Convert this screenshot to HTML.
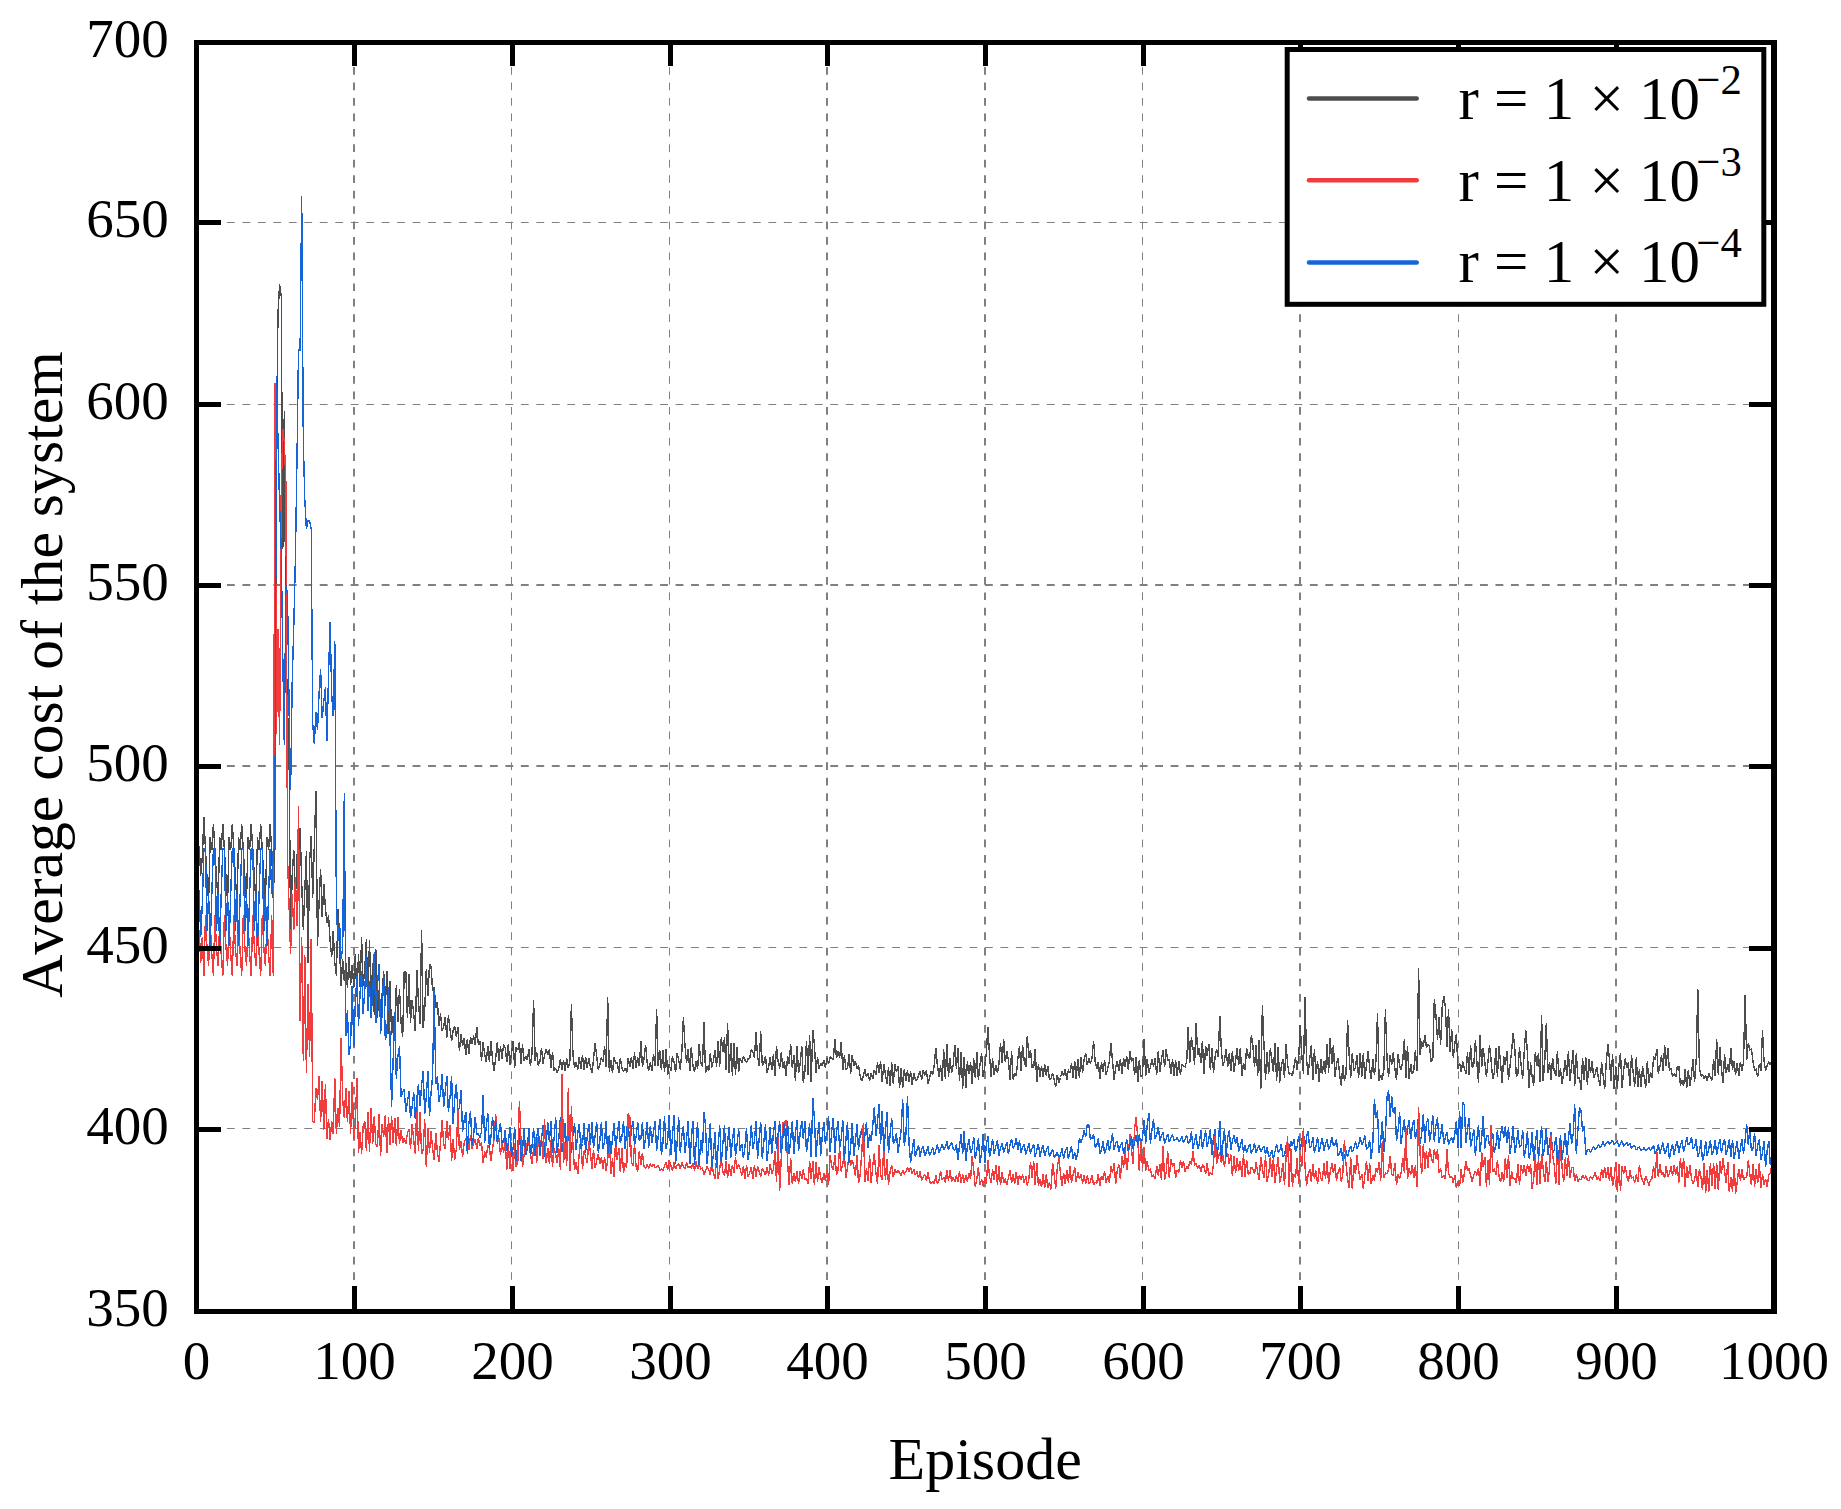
<!DOCTYPE html><html><head><meta charset="utf-8"><title>Average cost of the system</title>
<style>html,body{margin:0;padding:0;background:#fff;overflow:hidden}svg{display:block}text{font-family:"Liberation Serif","Times New Roman",serif;fill:#000}</style></head><body>
<svg width="1841" height="1509" viewBox="0 0 1841 1509">
<rect width="1841" height="1509" fill="#fff"/>
<g stroke="#808080" fill="none">
<line x1="354.0" y1="1310.8" x2="354.0" y2="45" stroke-width="2" stroke-dasharray="7.7 7.75"/>
<line x1="511.5" y1="1310.8" x2="511.5" y2="45" stroke-width="1" stroke-dasharray="7.7 7.75"/>
<line x1="669.5" y1="1310.8" x2="669.5" y2="45" stroke-width="1" stroke-dasharray="7.7 7.75"/>
<line x1="827.0" y1="1310.8" x2="827.0" y2="45" stroke-width="2" stroke-dasharray="7.7 7.75"/>
<line x1="985.0" y1="1310.8" x2="985.0" y2="45" stroke-width="2" stroke-dasharray="7.7 7.75"/>
<line x1="1142.5" y1="1310.8" x2="1142.5" y2="45" stroke-width="1" stroke-dasharray="7.7 7.75"/>
<line x1="1300.0" y1="1310.8" x2="1300.0" y2="45" stroke-width="2" stroke-dasharray="7.7 7.75"/>
<line x1="1458.5" y1="1310.8" x2="1458.5" y2="45" stroke-width="1" stroke-dasharray="7.7 7.75"/>
<line x1="1616.0" y1="1310.8" x2="1616.0" y2="45" stroke-width="2" stroke-dasharray="7.7 7.75"/>
<line x1="196" y1="222.5" x2="1771" y2="222.5" stroke-width="1" stroke-dasharray="7.85 7.62"/>
<line x1="196" y1="404.5" x2="1771" y2="404.5" stroke-width="1" stroke-dasharray="7.85 7.62"/>
<line x1="196" y1="585.0" x2="1771" y2="585.0" stroke-width="2" stroke-dasharray="7.85 7.62"/>
<line x1="196" y1="766.0" x2="1771" y2="766.0" stroke-width="2" stroke-dasharray="7.85 7.62"/>
<line x1="196" y1="947.5" x2="1771" y2="947.5" stroke-width="1" stroke-dasharray="7.85 7.62"/>
<line x1="196" y1="1128.5" x2="1771" y2="1128.5" stroke-width="1" stroke-dasharray="7.85 7.62"/>
</g>
<clipPath id="c"><rect x="199" y="45" width="1572" height="1264"/></clipPath>
<g clip-path="url(#c)" fill="none" stroke-width="1.4" stroke-linejoin="miter" stroke-miterlimit="2" shape-rendering="crispEdges">
<path stroke="#4d4d4d" d="M196.0,853.8 L197.6,868.3 L199.2,846.5 L200.7,875.5 L202.3,857.4 L203.9,817.1 L205.5,850.1 L207.0,877.4 L208.6,902.0 L210.2,837.4 L211.8,850.1 L213.4,824.0 L214.9,850.1 L216.5,877.4 L218.1,902.0 L219.7,837.4 L221.2,850.1 L222.8,824.0 L224.4,850.1 L226.0,877.4 L227.6,902.0 L229.1,837.4 L230.7,850.1 L232.3,824.0 L233.9,850.1 L235.4,877.4 L237.0,902.0 L238.6,837.4 L240.2,850.1 L241.7,824.0 L243.3,850.1 L244.9,877.4 L246.5,902.0 L248.1,837.4 L249.6,850.1 L251.2,824.0 L252.8,850.1 L254.4,877.4 L255.9,902.0 L257.5,837.4 L259.1,850.1 L260.7,824.0 L262.3,850.1 L263.8,877.4 L265.4,902.0 L267.0,837.4 L268.6,850.1 L270.1,824.0 L271.7,850.1 L273.3,900.9 L274.9,846.5 L276.5,436.6 L278.0,313.2 L279.6,284.2 L281.2,296.1 L282.8,549.0 L284.3,411.2 L285.9,639.7 L287.5,708.7 L289.1,755.8 L290.6,933.6 L292.2,875.5 L293.8,850.1 L295.4,900.9 L297.0,853.8 L298.5,897.3 L300.1,828.4 L301.7,882.8 L303.3,930.0 L304.8,890.1 L306.4,851.2 L308.0,962.6 L309.6,861.0 L311.2,836.4 L312.7,898.0 L314.3,846.5 L315.9,791.4 L317.5,945.9 L319.0,904.6 L320.6,868.6 L322.2,917.3 L323.8,884.2 L325.4,908.2 L326.9,922.7 L328.5,915.4 L330.1,940.8 L331.7,957.2 L333.2,931.0 L334.8,962.6 L336.4,975.7 L338.0,908.6 L339.6,948.1 L341.1,986.2 L342.7,959.0 L344.3,980.8 L345.9,962.6 L347.4,988.2 L349.0,956.6 L350.6,985.4 L352.2,964.6 L353.8,987.7 L355.3,953.8 L356.9,997.2 L358.5,954.1 L360.1,987.1 L361.6,937.3 L363.2,986.2 L364.8,968.5 L366.4,939.0 L367.9,1001.8 L369.5,939.7 L371.1,1000.7 L372.7,962.8 L374.3,1014.9 L375.8,949.1 L377.4,1018.0 L379.0,990.1 L380.6,1017.7 L382.1,995.2 L383.7,971.0 L385.3,1006.2 L386.9,971.1 L388.5,1033.8 L390.0,981.3 L391.6,1035.0 L393.2,1016.5 L394.8,1036.1 L396.3,985.1 L397.9,1021.6 L399.5,989.2 L401.1,1022.9 L402.7,1037.1 L404.2,972.7 L405.8,971.3 L407.4,1017.9 L409.0,973.7 L410.5,1022.7 L412.1,1000.3 L413.7,1013.3 L415.3,1031.4 L416.9,970.2 L418.4,1000.2 L420.0,1024.3 L421.6,930.4 L423.2,1028.3 L424.7,1009.6 L426.3,969.5 L427.9,996.3 L429.5,964.4 L431.0,966.0 L432.6,990.5 L434.2,987.6 L435.8,1007.7 L437.4,1001.7 L438.9,1026.2 L440.5,1013.5 L442.1,1031.0 L443.7,1026.7 L445.2,1016.8 L446.8,1037.8 L448.4,1015.3 L450.0,1029.3 L451.6,1041.1 L453.1,1030.8 L454.7,1026.2 L456.3,1036.6 L457.9,1027.4 L459.4,1051.2 L461.0,1033.7 L462.6,1045.6 L464.2,1037.7 L465.8,1055.1 L467.3,1038.7 L468.9,1054.2 L470.5,1036.7 L472.1,1044.3 L473.6,1035.3 L475.2,1044.6 L476.8,1026.9 L478.4,1045.2 L479.9,1041.0 L481.5,1060.5 L483.1,1042.1 L484.7,1054.6 L486.3,1062.0 L487.8,1045.9 L489.4,1061.6 L491.0,1041.0 L492.6,1060.7 L494.1,1070.6 L495.7,1058.1 L497.3,1042.4 L498.9,1061.0 L500.5,1046.1 L502.0,1058.6 L503.6,1044.4 L505.2,1047.7 L506.8,1062.3 L508.3,1043.9 L509.9,1065.3 L511.5,1052.7 L513.1,1041.5 L514.7,1067.9 L516.2,1047.2 L517.8,1050.1 L519.4,1041.8 L521.0,1064.1 L522.5,1044.1 L524.1,1061.3 L525.7,1056.0 L527.3,1060.2 L528.9,1049.5 L530.4,1065.6 L532.0,1054.2 L533.6,1000.3 L535.2,1061.2 L536.7,1051.8 L538.3,1065.5 L539.9,1061.5 L541.5,1047.8 L543.0,1063.8 L544.6,1055.0 L546.2,1049.2 L547.8,1055.3 L549.4,1049.1 L550.9,1067.8 L552.5,1051.7 L554.1,1070.7 L555.7,1068.7 L557.2,1072.7 L558.8,1068.1 L560.4,1059.3 L562.0,1069.9 L563.6,1060.2 L565.1,1070.9 L566.7,1058.5 L568.3,1068.2 L569.9,1060.4 L571.4,1004.3 L573.0,1055.7 L574.6,1067.9 L576.2,1062.1 L577.8,1069.6 L579.3,1056.6 L580.9,1069.1 L582.5,1054.9 L584.1,1069.7 L585.6,1057.0 L587.2,1067.4 L588.8,1058.3 L590.4,1066.7 L592.0,1073.2 L593.5,1059.3 L595.1,1043.4 L596.7,1056.1 L598.3,1070.0 L599.8,1065.1 L601.4,1057.7 L603.0,1061.8 L604.6,1046.5 L606.1,1067.1 L607.7,997.4 L609.3,1071.9 L610.9,1059.6 L612.5,1072.9 L614.0,1056.9 L615.6,1063.8 L617.2,1062.3 L618.8,1073.2 L620.3,1058.4 L621.9,1068.0 L623.5,1072.0 L625.1,1068.0 L626.7,1072.5 L628.2,1058.3 L629.8,1066.6 L631.4,1057.1 L633.0,1069.3 L634.5,1052.5 L636.1,1068.0 L637.7,1057.2 L639.3,1066.4 L640.9,1040.9 L642.4,1066.5 L644.0,1058.9 L645.6,1044.6 L647.2,1063.4 L648.7,1071.0 L650.3,1062.1 L651.9,1071.1 L653.5,1053.9 L655.1,1066.4 L656.6,1008.7 L658.2,1065.5 L659.8,1050.5 L661.4,1069.7 L662.9,1049.9 L664.5,1072.4 L666.1,1048.7 L667.7,1075.1 L669.2,1064.3 L670.8,1070.7 L672.4,1056.3 L674.0,1061.7 L675.6,1072.2 L677.1,1052.7 L678.7,1060.4 L680.3,1069.5 L681.9,1050.9 L683.4,1017.4 L685.0,1045.9 L686.6,1063.3 L688.2,1049.2 L689.8,1071.2 L691.3,1047.0 L692.9,1065.5 L694.5,1072.1 L696.1,1061.0 L697.6,1069.4 L699.2,1044.5 L700.8,1062.6 L702.4,1066.5 L704.0,1021.7 L705.5,1072.6 L707.1,1066.6 L708.7,1071.3 L710.3,1053.2 L711.8,1067.5 L713.4,1060.9 L715.0,1050.5 L716.6,1066.6 L718.2,1040.8 L719.7,1066.6 L721.3,1037.4 L722.9,1052.3 L724.5,1036.9 L726.0,1069.7 L727.6,1023.4 L729.2,1072.7 L730.8,1042.6 L732.4,1076.2 L733.9,1043.4 L735.5,1074.7 L737.1,1047.0 L738.7,1072.0 L740.2,1057.7 L741.8,1063.2 L743.4,1056.7 L745.0,1060.0 L746.5,1062.7 L748.1,1058.8 L749.7,1058.6 L751.3,1049.0 L752.9,1052.2 L754.4,1058.1 L756.0,1031.6 L757.6,1057.0 L759.2,1065.6 L760.7,1031.3 L762.3,1065.3 L763.9,1062.9 L765.5,1056.0 L767.1,1073.1 L768.6,1066.8 L770.2,1057.2 L771.8,1070.1 L773.4,1054.4 L774.9,1076.1 L776.5,1045.8 L778.1,1061.5 L779.7,1068.5 L781.3,1052.2 L782.8,1067.7 L784.4,1061.2 L786.0,1076.4 L787.6,1056.2 L789.1,1063.8 L790.7,1044.4 L792.3,1067.8 L793.9,1055.1 L795.4,1081.1 L797.0,1046.3 L798.6,1072.8 L800.2,1063.5 L801.8,1046.2 L803.3,1082.9 L804.9,1071.7 L806.5,1040.9 L808.1,1075.2 L809.6,1035.3 L811.2,1082.3 L812.8,1030.4 L814.4,1044.5 L816.0,1073.0 L817.5,1057.2 L819.1,1068.6 L820.7,1063.0 L822.3,1065.9 L823.8,1060.4 L825.4,1067.7 L827.0,1057.9 L828.6,1063.4 L830.2,1056.9 L831.7,1058.2 L833.3,1059.6 L834.9,1039.2 L836.5,1058.0 L838.0,1051.0 L839.6,1058.0 L841.2,1041.8 L842.8,1069.7 L844.4,1055.4 L845.9,1069.2 L847.5,1068.3 L849.1,1054.5 L850.7,1073.8 L852.2,1055.5 L853.8,1066.2 L855.4,1060.9 L857.0,1068.6 L858.5,1065.0 L860.1,1075.6 L861.7,1081.2 L863.3,1076.2 L864.9,1069.3 L866.4,1076.8 L868.0,1073.0 L869.6,1080.8 L871.2,1072.7 L872.7,1079.3 L874.3,1069.9 L875.9,1074.7 L877.5,1062.6 L879.1,1072.8 L880.6,1061.5 L882.2,1082.0 L883.8,1063.9 L885.4,1074.0 L886.9,1083.7 L888.5,1067.4 L890.1,1086.4 L891.7,1062.2 L893.3,1083.9 L894.8,1064.4 L896.4,1072.2 L898.0,1066.0 L899.6,1088.3 L901.1,1068.0 L902.7,1088.0 L904.3,1068.8 L905.9,1081.3 L907.5,1070.4 L909.0,1082.3 L910.6,1070.9 L912.2,1085.0 L913.8,1072.7 L915.3,1079.8 L916.9,1079.9 L918.5,1075.8 L920.1,1070.9 L921.6,1079.7 L923.2,1070.5 L924.8,1075.3 L926.4,1070.1 L928.0,1083.7 L929.5,1078.4 L931.1,1071.1 L932.7,1074.7 L934.3,1064.5 L935.8,1047.8 L937.4,1065.6 L939.0,1076.5 L940.6,1065.6 L942.2,1080.8 L943.7,1049.3 L945.3,1078.6 L946.9,1044.3 L948.5,1076.6 L950.0,1058.0 L951.6,1072.8 L953.2,1065.1 L954.8,1044.8 L956.4,1068.8 L957.9,1047.7 L959.5,1080.7 L961.1,1051.9 L962.7,1088.9 L964.2,1056.8 L965.8,1087.9 L967.4,1061.5 L969.0,1074.4 L970.6,1061.9 L972.1,1084.4 L973.7,1058.5 L975.3,1077.7 L976.9,1052.2 L978.4,1080.4 L980.0,1064.3 L981.6,1053.1 L983.2,1076.8 L984.8,1065.9 L986.3,1053.4 L987.9,1026.9 L989.5,1054.6 L991.1,1076.5 L992.6,1058.4 L994.2,1075.1 L995.8,1064.8 L997.4,1073.0 L998.9,1064.0 L1000.5,1043.4 L1002.1,1063.1 L1003.7,1039.0 L1005.3,1062.2 L1006.8,1051.5 L1008.4,1060.3 L1010.0,1079.7 L1011.6,1050.8 L1013.1,1079.4 L1014.7,1073.1 L1016.3,1076.1 L1017.9,1057.7 L1019.5,1046.5 L1021.0,1070.7 L1022.6,1044.8 L1024.2,1061.2 L1025.8,1067.1 L1027.3,1035.6 L1028.9,1057.8 L1030.5,1049.9 L1032.1,1067.1 L1033.7,1067.3 L1035.2,1049.2 L1036.8,1082.4 L1038.4,1063.7 L1040.0,1076.8 L1041.5,1066.2 L1043.1,1077.3 L1044.7,1064.4 L1046.3,1075.4 L1047.8,1065.7 L1049.4,1079.5 L1051.0,1078.8 L1052.6,1072.8 L1054.2,1080.2 L1055.7,1086.6 L1057.3,1074.9 L1058.9,1083.2 L1060.5,1077.5 L1062.0,1071.5 L1063.6,1076.2 L1065.2,1069.0 L1066.8,1079.7 L1068.4,1069.7 L1069.9,1073.2 L1071.5,1062.8 L1073.1,1077.5 L1074.7,1060.6 L1076.2,1079.2 L1077.8,1058.9 L1079.4,1077.5 L1081.0,1057.2 L1082.6,1073.1 L1084.1,1060.0 L1085.7,1053.1 L1087.3,1065.2 L1088.9,1058.0 L1090.4,1063.6 L1092.0,1058.1 L1093.6,1040.8 L1095.2,1061.8 L1096.8,1068.6 L1098.3,1061.6 L1099.9,1079.4 L1101.5,1061.8 L1103.1,1072.0 L1104.6,1059.9 L1106.2,1074.9 L1107.8,1068.2 L1109.4,1061.1 L1110.9,1043.4 L1112.5,1060.8 L1114.1,1079.6 L1115.7,1066.9 L1117.3,1060.7 L1118.8,1071.0 L1120.4,1058.6 L1122.0,1074.1 L1123.6,1057.9 L1125.1,1066.8 L1126.7,1056.3 L1128.3,1069.8 L1129.9,1051.0 L1131.5,1061.7 L1133.0,1058.3 L1134.6,1075.4 L1136.2,1056.6 L1137.8,1081.9 L1139.3,1060.2 L1140.9,1076.7 L1142.5,1074.4 L1144.1,1039.1 L1145.7,1076.3 L1147.2,1058.8 L1148.8,1072.7 L1150.4,1067.2 L1152.0,1059.3 L1153.5,1066.6 L1155.1,1058.4 L1156.7,1074.5 L1158.3,1051.3 L1159.9,1072.1 L1161.4,1060.0 L1163.0,1049.8 L1164.6,1067.2 L1166.2,1049.2 L1167.7,1060.3 L1169.3,1059.0 L1170.9,1074.0 L1172.5,1059.0 L1174.0,1075.9 L1175.6,1060.1 L1177.2,1075.8 L1178.8,1061.3 L1180.4,1074.7 L1181.9,1064.1 L1183.5,1066.3 L1185.1,1066.8 L1186.7,1061.4 L1188.2,1026.9 L1189.8,1062.6 L1191.4,1037.4 L1193.0,1048.2 L1194.6,1064.5 L1196.1,1022.6 L1197.7,1055.3 L1199.3,1047.8 L1200.9,1063.4 L1202.4,1040.8 L1204.0,1073.9 L1205.6,1045.8 L1207.2,1055.9 L1208.8,1043.8 L1210.3,1069.9 L1211.9,1047.9 L1213.5,1072.5 L1215.1,1057.0 L1216.6,1049.1 L1218.2,1057.2 L1219.8,1015.6 L1221.4,1050.5 L1223.0,1066.3 L1224.5,1060.6 L1226.1,1048.8 L1227.7,1066.6 L1229.3,1053.1 L1230.8,1071.4 L1232.4,1051.1 L1234.0,1072.3 L1235.6,1060.3 L1237.1,1048.4 L1238.7,1065.1 L1240.3,1048.0 L1241.9,1075.8 L1243.5,1063.0 L1245.0,1070.3 L1246.6,1047.9 L1248.2,1055.4 L1249.8,1058.8 L1251.3,1035.4 L1252.9,1045.3 L1254.5,1067.0 L1256.1,1045.1 L1257.7,1075.7 L1259.2,1040.0 L1260.8,1088.6 L1262.4,1005.5 L1264.0,1045.3 L1265.5,1079.8 L1267.1,1052.0 L1268.7,1073.9 L1270.3,1048.2 L1271.9,1060.2 L1273.4,1072.0 L1275.0,1043.2 L1276.6,1081.0 L1278.2,1047.3 L1279.7,1082.6 L1281.3,1065.8 L1282.9,1059.2 L1284.5,1078.1 L1286.1,1044.0 L1287.6,1064.7 L1289.2,1073.9 L1290.8,1073.5 L1292.4,1076.1 L1293.9,1067.0 L1295.5,1057.4 L1297.1,1069.8 L1298.7,1057.8 L1300.2,1025.2 L1301.8,1054.7 L1303.4,1073.6 L1305.0,997.4 L1306.6,1060.4 L1308.1,1075.0 L1309.7,1059.3 L1311.3,1045.5 L1312.9,1080.2 L1314.4,1049.4 L1316.0,1073.9 L1317.6,1061.4 L1319.2,1082.3 L1320.8,1059.0 L1322.3,1073.9 L1323.9,1061.1 L1325.5,1074.1 L1327.1,1043.9 L1328.6,1072.6 L1330.2,1038.2 L1331.8,1064.0 L1333.4,1044.9 L1335.0,1077.3 L1336.5,1064.1 L1338.1,1057.9 L1339.7,1075.9 L1341.3,1085.9 L1342.8,1065.0 L1344.4,1080.7 L1346.0,1074.2 L1347.6,1020.5 L1349.2,1055.9 L1350.7,1077.5 L1352.3,1053.3 L1353.9,1070.7 L1355.5,1067.0 L1357.0,1055.5 L1358.6,1078.0 L1360.2,1053.4 L1361.8,1076.5 L1363.3,1053.4 L1364.9,1078.9 L1366.5,1065.0 L1368.1,1050.9 L1369.7,1069.0 L1371.2,1079.3 L1372.8,1059.4 L1374.4,1075.3 L1376.0,1060.7 L1377.5,1013.5 L1379.1,1081.2 L1380.7,1074.8 L1382.3,1079.8 L1383.9,1068.8 L1385.4,1009.5 L1387.0,1058.4 L1388.6,1077.0 L1390.2,1055.2 L1391.7,1064.8 L1393.3,1052.4 L1394.9,1069.5 L1396.5,1079.6 L1398.1,1053.8 L1399.6,1065.6 L1401.2,1070.3 L1402.8,1059.9 L1404.4,1038.9 L1405.9,1077.5 L1407.5,1045.7 L1409.1,1079.1 L1410.7,1063.9 L1412.3,1074.2 L1413.8,1069.8 L1415.4,1050.2 L1417.0,1071.0 L1418.6,967.8 L1420.1,1054.9 L1421.7,1041.3 L1423.3,1047.3 L1424.9,1034.6 L1426.4,1047.4 L1428.0,1043.9 L1429.6,1047.0 L1431.2,1062.0 L1432.8,1058.1 L1434.3,999.1 L1435.9,1015.0 L1437.5,1039.6 L1439.1,1017.0 L1440.6,1044.8 L1442.2,1007.1 L1443.8,995.6 L1445.4,1007.2 L1447.0,1046.6 L1448.5,1009.0 L1450.1,1051.9 L1451.7,1029.5 L1453.3,1057.7 L1454.8,1044.0 L1456.4,1034.0 L1458.0,1068.9 L1459.6,1063.0 L1461.2,1071.8 L1462.7,1061.3 L1464.3,1067.9 L1465.9,1074.0 L1467.5,1052.2 L1469.0,1075.4 L1470.6,1045.1 L1472.2,1067.4 L1473.8,1064.6 L1475.4,1040.2 L1476.9,1062.4 L1478.5,1083.2 L1480.1,1035.0 L1481.7,1067.1 L1483.2,1047.6 L1484.8,1062.0 L1486.4,1076.6 L1488.0,1061.7 L1489.5,1044.8 L1491.1,1060.2 L1492.7,1079.3 L1494.3,1072.7 L1495.9,1047.6 L1497.4,1076.8 L1499.0,1046.5 L1500.6,1063.5 L1502.2,1082.5 L1503.7,1056.3 L1505.3,1065.1 L1506.9,1051.3 L1508.5,1080.1 L1510.1,1065.0 L1511.6,1051.4 L1513.2,1033.0 L1514.8,1048.5 L1516.4,1077.1 L1517.9,1073.9 L1519.5,1047.1 L1521.1,1065.1 L1522.7,1078.6 L1524.3,1050.1 L1525.8,1030.4 L1527.4,1052.1 L1529.0,1088.1 L1530.6,1062.5 L1532.1,1076.7 L1533.7,1085.5 L1535.3,1052.1 L1536.9,1065.7 L1538.5,1053.1 L1540.0,1081.7 L1541.6,1015.3 L1543.2,1080.9 L1544.8,1060.2 L1546.3,1023.4 L1547.9,1073.3 L1549.5,1061.9 L1551.1,1079.8 L1552.6,1057.6 L1554.2,1071.2 L1555.8,1076.0 L1557.4,1051.2 L1559.0,1076.7 L1560.5,1068.6 L1562.1,1084.4 L1563.7,1072.7 L1565.3,1059.6 L1566.8,1076.4 L1568.4,1051.0 L1570.0,1081.4 L1571.6,1065.6 L1573.2,1050.5 L1574.7,1085.9 L1576.3,1053.2 L1577.9,1078.9 L1579.5,1077.4 L1581.0,1089.7 L1582.6,1057.9 L1584.2,1079.5 L1585.8,1057.5 L1587.4,1085.3 L1588.9,1058.8 L1590.5,1073.1 L1592.1,1060.9 L1593.7,1077.8 L1595.2,1074.4 L1596.8,1066.8 L1598.4,1077.8 L1600.0,1086.2 L1601.6,1062.0 L1603.1,1075.3 L1604.7,1088.6 L1606.3,1061.5 L1607.9,1044.3 L1609.4,1058.6 L1611.0,1080.5 L1612.6,1054.0 L1614.2,1088.9 L1615.8,1066.5 L1617.3,1088.5 L1618.9,1065.9 L1620.5,1052.8 L1622.1,1088.1 L1623.6,1070.4 L1625.2,1058.6 L1626.8,1068.3 L1628.4,1062.6 L1629.9,1086.3 L1631.5,1055.0 L1633.1,1071.6 L1634.7,1086.6 L1636.3,1057.1 L1637.8,1086.9 L1639.4,1069.1 L1641.0,1086.8 L1642.6,1066.5 L1644.1,1076.7 L1645.7,1087.5 L1647.3,1061.3 L1648.9,1083.4 L1650.5,1072.5 L1652.0,1077.7 L1653.6,1056.4 L1655.2,1059.7 L1656.8,1048.9 L1658.3,1073.5 L1659.9,1066.8 L1661.5,1055.5 L1663.1,1070.7 L1664.7,1045.3 L1666.2,1066.4 L1667.8,1048.2 L1669.4,1070.5 L1671.0,1068.1 L1672.5,1076.6 L1674.1,1074.2 L1675.7,1077.2 L1677.3,1066.7 L1678.8,1066.2 L1680.4,1085.6 L1682.0,1079.8 L1683.6,1086.1 L1685.2,1069.3 L1686.7,1087.9 L1688.3,1069.8 L1689.9,1086.1 L1691.5,1074.6 L1693.0,1059.4 L1694.6,1082.0 L1696.2,1059.6 L1697.8,989.5 L1699.4,1067.0 L1700.9,1076.3 L1702.5,1074.3 L1704.1,1078.6 L1705.7,1075.6 L1707.2,1081.1 L1708.8,1073.5 L1710.4,1077.0 L1712.0,1080.4 L1713.6,1059.1 L1715.1,1075.8 L1716.7,1039.4 L1718.3,1075.0 L1719.9,1046.6 L1721.4,1068.6 L1723.0,1083.0 L1724.6,1054.5 L1726.2,1072.7 L1727.8,1064.5 L1729.3,1072.3 L1730.9,1047.9 L1732.5,1069.5 L1734.1,1061.1 L1735.6,1075.1 L1737.2,1062.7 L1738.8,1076.0 L1740.4,1061.8 L1741.9,1071.3 L1743.5,1062.0 L1745.1,994.8 L1746.7,1059.8 L1748.3,1042.7 L1749.8,1049.9 L1751.4,1049.2 L1753.0,1061.3 L1754.6,1070.2 L1756.1,1069.4 L1757.7,1077.1 L1759.3,1064.2 L1760.9,1071.3 L1762.5,1030.4 L1764.0,1060.8 L1765.6,1070.4 L1767.2,1065.3 L1768.8,1061.7 L1770.3,1064.5 L1771.9,1060.6 L1773.5,1066.6"/>
<path stroke="#f03c3c" d="M196.0,940.8 L197.6,955.4 L199.2,930.0 L200.7,962.6 L202.3,937.2 L203.9,975.7 L205.5,915.1 L207.0,948.1 L208.6,965.5 L210.2,923.4 L211.8,953.5 L213.4,975.7 L214.9,915.1 L216.5,948.1 L218.1,965.5 L219.7,923.4 L221.2,953.5 L222.8,975.7 L224.4,915.1 L226.0,948.1 L227.6,965.5 L229.1,923.4 L230.7,953.5 L232.3,975.7 L233.9,915.1 L235.4,948.1 L237.0,965.5 L238.6,923.4 L240.2,953.5 L241.7,975.7 L243.3,915.1 L244.9,948.1 L246.5,965.5 L248.1,923.4 L249.6,953.5 L251.2,975.7 L252.8,915.1 L254.4,948.1 L255.9,965.5 L257.5,923.4 L259.1,953.5 L260.7,975.7 L262.3,915.1 L263.8,948.1 L265.4,965.5 L267.0,923.4 L268.6,953.5 L270.1,975.7 L271.7,915.1 L273.3,975.7 L274.9,382.9 L276.5,734.0 L278.0,628.8 L279.6,744.9 L281.2,494.6 L282.8,428.9 L284.3,442.0 L285.9,483.0 L287.5,856.3 L289.1,906.7 L290.6,953.9 L292.2,893.7 L293.8,930.0 L295.4,877.4 L297.0,926.3 L298.5,805.9 L300.1,1020.7 L301.7,937.2 L303.3,1060.6 L304.8,955.4 L306.4,1073.3 L308.0,984.4 L309.6,1056.9 L311.2,939.0 L312.7,1121.5 L314.3,1123.1 L315.9,1087.7 L317.5,1100.2 L319.0,1076.3 L320.6,1122.0 L322.2,1081.4 L323.8,1129.8 L325.4,1084.0 L326.9,1139.0 L328.5,1118.7 L330.1,1140.2 L331.7,1121.3 L333.2,1133.6 L334.8,1078.5 L336.4,1134.2 L338.0,1108.1 L339.6,1127.1 L341.1,1038.2 L342.7,1099.7 L344.3,1118.2 L345.9,1087.6 L347.4,1121.7 L349.0,1090.7 L350.6,1133.8 L352.2,1082.3 L353.8,1139.8 L355.3,1123.7 L356.9,1077.7 L358.5,1152.9 L360.1,1131.6 L361.6,1154.1 L363.2,1126.5 L364.8,1121.4 L366.4,1150.9 L367.9,1111.6 L369.5,1151.8 L371.1,1108.0 L372.7,1144.2 L374.3,1115.9 L375.8,1144.5 L377.4,1146.8 L379.0,1113.6 L380.6,1156.4 L382.1,1124.2 L383.7,1136.6 L385.3,1115.2 L386.9,1152.6 L388.5,1117.3 L390.0,1144.8 L391.6,1116.2 L393.2,1142.6 L394.8,1117.6 L396.3,1145.6 L397.9,1117.4 L399.5,1143.9 L401.1,1129.8 L402.7,1143.2 L404.2,1138.2 L405.8,1144.0 L407.4,1133.5 L409.0,1129.0 L410.5,1149.4 L412.1,1124.2 L413.7,1140.3 L415.3,1154.2 L416.9,1099.1 L418.4,1151.4 L420.0,1112.1 L421.6,1154.1 L423.2,1149.7 L424.7,1119.2 L426.3,1167.4 L427.9,1127.9 L429.5,1153.0 L431.0,1131.1 L432.6,1148.6 L434.2,1160.3 L435.8,1132.7 L437.4,1152.0 L438.9,1161.5 L440.5,1142.7 L442.1,1119.8 L443.7,1144.2 L445.2,1149.0 L446.8,1120.8 L448.4,1139.7 L450.0,1125.3 L451.6,1160.5 L453.1,1139.3 L454.7,1159.6 L456.3,1149.1 L457.9,1110.1 L459.4,1150.1 L461.0,1140.7 L462.6,1156.6 L464.2,1143.1 L465.8,1138.3 L467.3,1141.7 L468.9,1149.7 L470.5,1134.9 L472.1,1149.3 L473.6,1142.9 L475.2,1139.1 L476.8,1148.8 L478.4,1138.0 L479.9,1146.2 L481.5,1141.9 L483.1,1163.0 L484.7,1151.6 L486.3,1157.7 L487.8,1145.1 L489.4,1147.8 L491.0,1161.0 L492.6,1148.0 L494.1,1139.1 L495.7,1113.8 L497.3,1144.0 L498.9,1138.3 L500.5,1154.5 L502.0,1140.3 L503.6,1152.9 L505.2,1141.3 L506.8,1169.7 L508.3,1141.9 L509.9,1169.3 L511.5,1141.8 L513.1,1171.4 L514.7,1143.3 L516.2,1167.0 L517.8,1161.6 L519.4,1100.8 L521.0,1139.8 L522.5,1166.9 L524.1,1155.0 L525.7,1142.9 L527.3,1148.8 L528.9,1139.8 L530.4,1153.6 L532.0,1164.2 L533.6,1147.8 L535.2,1137.4 L536.7,1162.7 L538.3,1135.1 L539.9,1155.7 L541.5,1136.2 L543.0,1159.0 L544.6,1119.0 L546.2,1163.4 L547.8,1148.3 L549.4,1164.3 L550.9,1139.8 L552.5,1166.7 L554.1,1147.9 L555.7,1154.9 L557.2,1162.5 L558.8,1148.5 L560.4,1169.8 L562.0,1073.9 L563.6,1162.9 L565.1,1142.1 L566.7,1166.2 L568.3,1087.8 L569.9,1171.4 L571.4,1106.0 L573.0,1147.1 L574.6,1170.2 L576.2,1161.7 L577.8,1174.1 L579.3,1152.5 L580.9,1137.8 L582.5,1169.3 L584.1,1150.6 L585.6,1157.0 L587.2,1163.2 L588.8,1141.3 L590.4,1152.6 L592.0,1169.4 L593.5,1149.7 L595.1,1168.1 L596.7,1160.6 L598.3,1153.9 L599.8,1163.7 L601.4,1156.9 L603.0,1168.8 L604.6,1157.0 L606.1,1171.2 L607.7,1159.4 L609.3,1134.8 L610.9,1174.4 L612.5,1158.2 L614.0,1176.5 L615.6,1138.8 L617.2,1159.5 L618.8,1147.6 L620.3,1172.1 L621.9,1147.7 L623.5,1173.1 L625.1,1163.6 L626.7,1167.8 L628.2,1113.8 L629.8,1116.4 L631.4,1162.0 L633.0,1166.1 L634.5,1143.6 L636.1,1166.9 L637.7,1171.5 L639.3,1151.4 L640.9,1165.1 L642.4,1152.7 L644.0,1166.4 L645.6,1168.9 L647.2,1164.5 L648.7,1168.3 L650.3,1163.8 L651.9,1166.9 L653.5,1163.9 L655.1,1167.4 L656.6,1167.2 L658.2,1164.9 L659.8,1170.3 L661.4,1169.0 L662.9,1170.3 L664.5,1166.0 L666.1,1162.0 L667.7,1169.8 L669.2,1160.4 L670.8,1165.4 L672.4,1171.0 L674.0,1162.3 L675.6,1169.1 L677.1,1165.2 L678.7,1163.8 L680.3,1169.0 L681.9,1162.5 L683.4,1166.7 L685.0,1168.9 L686.6,1162.1 L688.2,1167.6 L689.8,1166.5 L691.3,1168.3 L692.9,1162.7 L694.5,1170.7 L696.1,1160.9 L697.6,1169.3 L699.2,1165.0 L700.8,1168.7 L702.4,1168.1 L704.0,1174.6 L705.5,1170.8 L707.1,1166.4 L708.7,1169.7 L710.3,1174.7 L711.8,1162.9 L713.4,1173.0 L715.0,1179.0 L716.6,1157.4 L718.2,1179.1 L719.7,1168.5 L721.3,1159.0 L722.9,1171.7 L724.5,1175.9 L726.0,1160.8 L727.6,1178.2 L729.2,1164.4 L730.8,1175.9 L732.4,1165.2 L733.9,1172.8 L735.5,1157.6 L737.1,1168.6 L738.7,1164.3 L740.2,1169.3 L741.8,1175.5 L743.4,1166.3 L745.0,1178.6 L746.5,1165.2 L748.1,1176.9 L749.7,1172.5 L751.3,1166.8 L752.9,1178.9 L754.4,1165.3 L756.0,1176.6 L757.6,1166.0 L759.2,1171.3 L760.7,1176.7 L762.3,1168.4 L763.9,1171.0 L765.5,1175.3 L767.1,1166.9 L768.6,1175.7 L770.2,1164.2 L771.8,1173.6 L773.4,1169.9 L774.9,1151.5 L776.5,1181.6 L778.1,1137.5 L779.7,1190.8 L781.3,1157.0 L782.8,1122.9 L784.4,1123.4 L786.0,1119.8 L787.6,1163.3 L789.1,1184.6 L790.7,1158.4 L792.3,1184.1 L793.9,1173.4 L795.4,1182.0 L797.0,1171.4 L798.6,1183.8 L800.2,1170.7 L801.8,1178.9 L803.3,1169.1 L804.9,1179.7 L806.5,1177.9 L808.1,1184.2 L809.6,1160.6 L811.2,1179.1 L812.8,1161.0 L814.4,1185.4 L816.0,1162.4 L817.5,1181.6 L819.1,1166.7 L820.7,1178.0 L822.3,1183.3 L823.8,1173.2 L825.4,1181.0 L827.0,1169.8 L828.6,1184.8 L830.2,1155.0 L831.7,1166.3 L833.3,1170.1 L834.9,1155.4 L836.5,1174.7 L838.0,1170.4 L839.6,1147.7 L841.2,1171.4 L842.8,1163.6 L844.4,1154.5 L845.9,1178.0 L847.5,1167.3 L849.1,1155.3 L850.7,1165.7 L852.2,1159.9 L853.8,1166.8 L855.4,1175.7 L857.0,1154.6 L858.5,1183.1 L860.1,1175.3 L861.7,1154.0 L863.3,1123.4 L864.9,1181.9 L866.4,1167.7 L868.0,1181.4 L869.6,1155.5 L871.2,1183.2 L872.7,1165.9 L874.3,1153.3 L875.9,1173.2 L877.5,1184.4 L879.1,1145.4 L880.6,1174.9 L882.2,1179.6 L883.8,1145.3 L885.4,1180.3 L886.9,1158.8 L888.5,1184.9 L890.1,1171.3 L891.7,1164.9 L893.3,1177.1 L894.8,1169.4 L896.4,1173.1 L898.0,1170.2 L899.6,1173.0 L901.1,1175.3 L902.7,1170.3 L904.3,1173.8 L905.9,1171.7 L907.5,1167.3 L909.0,1171.8 L910.6,1167.5 L912.2,1173.4 L913.8,1169.5 L915.3,1175.1 L916.9,1170.8 L918.5,1177.7 L920.1,1171.6 L921.6,1180.7 L923.2,1177.1 L924.8,1174.7 L926.4,1180.9 L928.0,1172.1 L929.5,1181.2 L931.1,1183.8 L932.7,1181.1 L934.3,1184.3 L935.8,1175.4 L937.4,1183.8 L939.0,1180.4 L940.6,1171.1 L942.2,1179.8 L943.7,1177.2 L945.3,1182.5 L946.9,1170.2 L948.5,1180.5 L950.0,1170.2 L951.6,1182.0 L953.2,1177.4 L954.8,1181.8 L956.4,1175.4 L957.9,1182.3 L959.5,1171.5 L961.1,1183.0 L962.7,1174.2 L964.2,1183.2 L965.8,1175.3 L967.4,1181.7 L969.0,1172.8 L970.6,1179.0 L972.1,1156.4 L973.7,1169.5 L975.3,1186.8 L976.9,1179.0 L978.4,1167.1 L980.0,1184.8 L981.6,1179.4 L983.2,1186.4 L984.8,1177.5 L986.3,1183.7 L987.9,1159.9 L989.5,1176.2 L991.1,1183.1 L992.6,1169.1 L994.2,1180.1 L995.8,1165.3 L997.4,1184.5 L998.9,1166.1 L1000.5,1185.3 L1002.1,1171.6 L1003.7,1182.8 L1005.3,1178.4 L1006.8,1185.0 L1008.4,1177.8 L1010.0,1169.7 L1011.6,1183.2 L1013.1,1174.0 L1014.7,1183.9 L1016.3,1171.7 L1017.9,1185.0 L1019.5,1174.7 L1021.0,1179.9 L1022.6,1174.6 L1024.2,1182.8 L1025.8,1176.4 L1027.3,1185.5 L1028.9,1178.8 L1030.5,1161.6 L1032.1,1177.9 L1033.7,1160.8 L1035.2,1185.1 L1036.8,1162.7 L1038.4,1185.9 L1040.0,1178.7 L1041.5,1187.1 L1043.1,1174.2 L1044.7,1187.8 L1046.3,1174.3 L1047.8,1188.4 L1049.4,1182.1 L1051.0,1189.4 L1052.6,1162.6 L1054.2,1174.8 L1055.7,1188.8 L1057.3,1167.4 L1058.9,1157.3 L1060.5,1173.9 L1062.0,1185.9 L1063.6,1172.6 L1065.2,1184.0 L1066.8,1170.0 L1068.4,1182.8 L1069.9,1165.9 L1071.5,1182.5 L1073.1,1175.0 L1074.7,1167.3 L1076.2,1182.3 L1077.8,1172.0 L1079.4,1178.5 L1081.0,1174.3 L1082.6,1183.4 L1084.1,1175.4 L1085.7,1183.9 L1087.3,1175.5 L1088.9,1183.7 L1090.4,1182.0 L1092.0,1175.1 L1093.6,1185.2 L1095.2,1182.5 L1096.8,1183.1 L1098.3,1173.8 L1099.9,1185.8 L1101.5,1175.8 L1103.1,1179.5 L1104.6,1171.1 L1106.2,1182.6 L1107.8,1176.2 L1109.4,1183.2 L1110.9,1165.7 L1112.5,1173.2 L1114.1,1163.1 L1115.7,1183.8 L1117.3,1170.3 L1118.8,1164.6 L1120.4,1179.2 L1122.0,1156.4 L1123.6,1168.1 L1125.1,1148.4 L1126.7,1170.4 L1128.3,1157.8 L1129.9,1133.6 L1131.5,1148.9 L1133.0,1164.2 L1134.6,1128.4 L1136.2,1117.3 L1137.8,1138.9 L1139.3,1171.4 L1140.9,1140.8 L1142.5,1167.9 L1144.1,1147.3 L1145.7,1170.7 L1147.2,1161.0 L1148.8,1170.4 L1150.4,1169.3 L1152.0,1176.4 L1153.5,1174.9 L1155.1,1178.8 L1156.7,1165.6 L1158.3,1175.9 L1159.9,1163.7 L1161.4,1180.3 L1163.0,1146.0 L1164.6,1179.9 L1166.2,1171.9 L1167.7,1151.5 L1169.3,1177.9 L1170.9,1159.0 L1172.5,1166.5 L1174.0,1163.1 L1175.6,1177.6 L1177.2,1170.0 L1178.8,1172.2 L1180.4,1160.4 L1181.9,1167.8 L1183.5,1161.4 L1185.1,1171.8 L1186.7,1166.2 L1188.2,1169.1 L1189.8,1160.9 L1191.4,1164.4 L1193.0,1151.3 L1194.6,1164.7 L1196.1,1163.6 L1197.7,1168.3 L1199.3,1165.2 L1200.9,1172.0 L1202.4,1164.7 L1204.0,1166.9 L1205.6,1174.0 L1207.2,1162.9 L1208.8,1175.4 L1210.3,1171.9 L1211.9,1175.0 L1213.5,1164.2 L1215.1,1135.6 L1216.6,1163.7 L1218.2,1157.0 L1219.8,1152.7 L1221.4,1163.1 L1223.0,1155.4 L1224.5,1167.0 L1226.1,1154.0 L1227.7,1153.7 L1229.3,1164.3 L1230.8,1154.5 L1232.4,1176.3 L1234.0,1156.4 L1235.6,1173.0 L1237.1,1158.4 L1238.7,1171.0 L1240.3,1160.8 L1241.9,1176.9 L1243.5,1154.5 L1245.0,1177.3 L1246.6,1159.6 L1248.2,1174.0 L1249.8,1173.6 L1251.3,1167.0 L1252.9,1168.9 L1254.5,1174.2 L1256.1,1162.2 L1257.7,1172.2 L1259.2,1179.8 L1260.8,1156.6 L1262.4,1168.8 L1264.0,1177.9 L1265.5,1155.5 L1267.1,1181.8 L1268.7,1174.0 L1270.3,1157.2 L1271.9,1176.9 L1273.4,1157.4 L1275.0,1183.3 L1276.6,1168.2 L1278.2,1157.0 L1279.7,1182.7 L1281.3,1175.7 L1282.9,1163.0 L1284.5,1185.0 L1286.1,1156.8 L1287.6,1136.4 L1289.2,1187.0 L1290.8,1148.4 L1292.4,1186.6 L1293.9,1174.2 L1295.5,1177.6 L1297.1,1158.0 L1298.7,1184.1 L1300.2,1154.0 L1301.8,1166.8 L1303.4,1127.7 L1305.0,1166.4 L1306.6,1185.5 L1308.1,1175.0 L1309.7,1168.7 L1311.3,1181.6 L1312.9,1164.4 L1314.4,1179.2 L1316.0,1170.6 L1317.6,1183.8 L1319.2,1168.1 L1320.8,1178.1 L1322.3,1181.2 L1323.9,1163.4 L1325.5,1179.1 L1327.1,1160.9 L1328.6,1183.7 L1330.2,1172.6 L1331.8,1163.5 L1333.4,1172.7 L1335.0,1164.4 L1336.5,1180.7 L1338.1,1172.0 L1339.7,1167.3 L1341.3,1182.0 L1342.8,1173.0 L1344.4,1139.9 L1346.0,1164.3 L1347.6,1179.3 L1349.2,1188.3 L1350.7,1156.6 L1352.3,1189.4 L1353.9,1164.9 L1355.5,1174.3 L1357.0,1155.2 L1358.6,1169.8 L1360.2,1179.7 L1361.8,1173.9 L1363.3,1188.6 L1364.9,1174.5 L1366.5,1160.7 L1368.1,1180.7 L1369.7,1163.4 L1371.2,1183.8 L1372.8,1175.4 L1374.4,1180.4 L1376.0,1167.8 L1377.5,1172.4 L1379.1,1161.8 L1380.7,1180.9 L1382.3,1140.8 L1383.9,1178.3 L1385.4,1173.1 L1387.0,1173.8 L1388.6,1169.5 L1390.2,1155.7 L1391.7,1174.8 L1393.3,1175.3 L1394.9,1163.1 L1396.5,1185.1 L1398.1,1174.4 L1399.6,1178.5 L1401.2,1172.5 L1402.8,1158.2 L1404.4,1173.0 L1405.9,1128.6 L1407.5,1178.9 L1409.1,1168.3 L1410.7,1174.9 L1412.3,1165.0 L1413.8,1177.9 L1415.4,1165.5 L1417.0,1186.6 L1418.6,1106.9 L1420.1,1154.8 L1421.7,1174.1 L1423.3,1144.4 L1424.9,1168.8 L1426.4,1151.1 L1428.0,1167.6 L1429.6,1147.6 L1431.2,1156.7 L1432.8,1163.1 L1434.3,1148.8 L1435.9,1159.1 L1437.5,1149.1 L1439.1,1173.2 L1440.6,1168.4 L1442.2,1178.0 L1443.8,1175.5 L1445.4,1179.0 L1447.0,1148.8 L1448.5,1173.0 L1450.1,1177.3 L1451.7,1176.3 L1453.3,1182.8 L1454.8,1175.4 L1456.4,1188.2 L1458.0,1181.1 L1459.6,1186.1 L1461.2,1169.2 L1462.7,1182.8 L1464.3,1174.0 L1465.9,1160.7 L1467.5,1170.9 L1469.0,1168.7 L1470.6,1175.5 L1472.2,1182.0 L1473.8,1174.8 L1475.4,1170.8 L1476.9,1175.3 L1478.5,1167.7 L1480.1,1186.2 L1481.7,1152.2 L1483.2,1166.9 L1484.8,1156.8 L1486.4,1186.8 L1488.0,1160.1 L1489.5,1185.3 L1491.1,1125.1 L1492.7,1172.0 L1494.3,1168.6 L1495.9,1174.8 L1497.4,1160.2 L1499.0,1176.4 L1500.6,1182.3 L1502.2,1172.3 L1503.7,1181.9 L1505.3,1157.7 L1506.9,1178.4 L1508.5,1154.8 L1510.1,1185.7 L1511.6,1171.2 L1513.2,1178.7 L1514.8,1178.5 L1516.4,1183.3 L1517.9,1164.4 L1519.5,1184.6 L1521.1,1164.7 L1522.7,1173.7 L1524.3,1164.9 L1525.8,1175.7 L1527.4,1164.6 L1529.0,1172.1 L1530.6,1164.6 L1532.1,1188.5 L1533.7,1178.9 L1535.3,1154.1 L1536.9,1185.0 L1538.5,1157.2 L1540.0,1183.9 L1541.6,1154.5 L1543.2,1168.8 L1544.8,1182.1 L1546.3,1160.9 L1547.9,1181.5 L1549.5,1170.3 L1551.1,1134.7 L1552.6,1155.2 L1554.2,1165.1 L1555.8,1183.7 L1557.4,1144.8 L1559.0,1184.9 L1560.5,1140.8 L1562.1,1167.5 L1563.7,1181.9 L1565.3,1157.4 L1566.8,1175.9 L1568.4,1155.5 L1570.0,1177.5 L1571.6,1167.9 L1573.2,1167.4 L1574.7,1181.3 L1576.3,1174.2 L1577.9,1181.3 L1579.5,1179.1 L1581.0,1179.7 L1582.6,1175.2 L1584.2,1178.1 L1585.8,1176.1 L1587.4,1179.9 L1588.9,1180.8 L1590.5,1176.5 L1592.1,1179.0 L1593.7,1176.4 L1595.2,1172.5 L1596.8,1180.1 L1598.4,1176.6 L1600.0,1180.7 L1601.6,1169.3 L1603.1,1177.7 L1604.7,1167.1 L1606.3,1178.2 L1607.9,1167.5 L1609.4,1180.6 L1611.0,1166.7 L1612.6,1185.8 L1614.2,1176.8 L1615.8,1161.8 L1617.3,1191.5 L1618.9,1164.4 L1620.5,1191.2 L1622.1,1166.5 L1623.6,1173.9 L1625.2,1165.8 L1626.8,1175.9 L1628.4,1182.0 L1629.9,1170.5 L1631.5,1178.3 L1633.1,1177.0 L1634.7,1183.0 L1636.3,1174.3 L1637.8,1181.8 L1639.4,1165.5 L1641.0,1176.4 L1642.6,1180.4 L1644.1,1184.4 L1645.7,1175.7 L1647.3,1180.3 L1648.9,1185.7 L1650.5,1179.7 L1652.0,1178.1 L1653.6,1166.2 L1655.2,1178.0 L1656.8,1152.1 L1658.3,1177.1 L1659.9,1164.1 L1661.5,1175.2 L1663.1,1172.7 L1664.7,1178.2 L1666.2,1165.6 L1667.8,1176.9 L1669.4,1174.3 L1671.0,1166.1 L1672.5,1176.3 L1674.1,1165.3 L1675.7,1174.6 L1677.3,1166.4 L1678.8,1182.6 L1680.4,1158.4 L1682.0,1176.7 L1683.6,1157.6 L1685.2,1186.5 L1686.7,1165.9 L1688.3,1178.4 L1689.9,1164.9 L1691.5,1178.8 L1693.0,1184.1 L1694.6,1179.8 L1696.2,1169.0 L1697.8,1187.2 L1699.4,1169.2 L1700.9,1176.2 L1702.5,1190.4 L1704.1,1162.7 L1705.7,1192.7 L1707.2,1170.0 L1708.8,1191.6 L1710.4,1162.7 L1712.0,1186.4 L1713.6,1162.8 L1715.1,1188.6 L1716.7,1163.5 L1718.3,1190.1 L1719.9,1161.2 L1721.4,1174.3 L1723.0,1158.1 L1724.6,1171.5 L1726.2,1183.0 L1727.8,1161.6 L1729.3,1192.3 L1730.9,1177.1 L1732.5,1191.9 L1734.1,1163.8 L1735.6,1193.7 L1737.2,1182.2 L1738.8,1168.6 L1740.4,1180.7 L1741.9,1169.3 L1743.5,1180.0 L1745.1,1177.3 L1746.7,1177.4 L1748.3,1159.9 L1749.8,1173.6 L1751.4,1185.3 L1753.0,1164.1 L1754.6,1186.6 L1756.1,1169.1 L1757.7,1183.3 L1759.3,1163.0 L1760.9,1188.1 L1762.5,1174.2 L1764.0,1184.4 L1765.6,1179.1 L1767.2,1186.7 L1768.8,1174.5 L1770.3,1173.2 L1771.9,1164.2 L1773.5,1167.9"/>
<path stroke="#1565d8" d="M196.0,900.9 L197.6,930.0 L199.2,890.1 L200.7,937.2 L202.3,904.6 L203.9,849.1 L205.5,849.1 L207.0,931.4 L208.6,894.0 L210.2,946.3 L211.8,894.0 L213.4,849.1 L214.9,849.1 L216.5,931.4 L218.1,894.0 L219.7,946.3 L221.2,894.0 L222.8,849.1 L224.4,849.1 L226.0,931.4 L227.6,894.0 L229.1,946.3 L230.7,894.0 L232.3,849.1 L233.9,849.1 L235.4,931.4 L237.0,894.0 L238.6,946.3 L240.2,894.0 L241.7,849.1 L243.3,849.1 L244.9,931.4 L246.5,894.0 L248.1,946.3 L249.6,894.0 L251.2,849.1 L252.8,849.1 L254.4,931.4 L255.9,894.0 L257.5,946.3 L259.1,894.0 L260.7,849.1 L262.3,849.1 L263.8,931.4 L265.4,894.0 L267.0,946.3 L268.6,894.0 L270.1,849.1 L271.7,893.7 L273.3,849.1 L274.9,849.1 L276.5,376.0 L278.0,440.2 L279.6,505.5 L281.2,549.0 L282.8,657.9 L284.3,744.9 L285.9,585.3 L287.5,593.3 L289.1,710.1 L290.6,789.9 L292.2,682.2 L293.8,625.9 L295.4,558.1 L297.0,458.3 L298.5,349.8 L300.1,349.8 L301.7,196.4 L303.3,440.2 L304.8,500.0 L306.4,528.7 L308.0,521.1 L309.6,521.1 L311.2,528.7 L312.7,723.9 L314.3,743.8 L315.9,712.3 L317.5,730.4 L319.0,694.1 L320.6,668.7 L322.2,718.1 L323.8,701.4 L325.4,686.9 L326.9,741.3 L328.5,676.0 L330.1,621.9 L331.7,694.1 L333.2,715.9 L334.8,640.8 L336.4,908.2 L338.0,940.8 L339.6,922.7 L341.1,959.0 L342.7,948.1 L344.3,792.8 L345.9,1035.5 L347.4,1010.4 L349.0,1054.5 L350.6,1043.8 L352.2,986.4 L353.8,1046.8 L355.3,1003.6 L356.9,976.3 L358.5,1025.5 L360.1,992.7 L361.6,970.7 L363.2,1013.7 L364.8,989.6 L366.4,956.5 L367.9,1011.3 L369.5,981.1 L371.1,1017.7 L372.7,992.4 L374.3,952.3 L375.8,1023.1 L377.4,986.8 L379.0,963.8 L380.6,1033.6 L382.1,1013.8 L383.7,973.4 L385.3,1039.7 L386.9,1033.5 L388.5,987.1 L390.0,1036.9 L391.6,1106.5 L393.2,1058.8 L394.8,1012.1 L396.3,1078.9 L397.9,1056.2 L399.5,1046.5 L401.1,1097.0 L402.7,1092.4 L404.2,1088.9 L405.8,1111.7 L407.4,1102.2 L409.0,1091.5 L410.5,1117.9 L412.1,1106.7 L413.7,1092.5 L415.3,1119.3 L416.9,1098.1 L418.4,1084.2 L420.0,1106.1 L421.6,1085.5 L423.2,1070.7 L424.7,1114.1 L426.3,1096.9 L427.9,1070.7 L429.5,1116.4 L431.0,1093.6 L432.6,1075.7 L434.2,990.5 L435.8,1084.0 L437.4,1076.3 L438.9,1102.1 L440.5,1093.6 L442.1,1074.0 L443.7,1107.2 L445.2,1092.1 L446.8,1075.7 L448.4,1111.9 L450.0,1097.5 L451.6,1076.3 L453.1,1124.2 L454.7,1099.4 L456.3,1083.8 L457.9,1110.1 L459.4,1108.2 L461.0,1090.0 L462.6,1131.6 L464.2,1119.7 L465.8,1111.8 L467.3,1153.6 L468.9,1122.8 L470.5,1111.5 L472.1,1145.3 L473.6,1135.5 L475.2,1116.8 L476.8,1134.2 L478.4,1133.7 L479.9,1137.6 L481.5,1131.8 L483.1,1094.7 L484.7,1142.6 L486.3,1125.8 L487.8,1113.4 L489.4,1147.8 L491.0,1136.2 L492.6,1116.7 L494.1,1139.3 L495.7,1120.1 L497.3,1141.9 L498.9,1131.5 L500.5,1122.9 L502.0,1142.2 L503.6,1142.1 L505.2,1130.3 L506.8,1151.3 L508.3,1143.4 L509.9,1127.2 L511.5,1156.6 L513.1,1148.6 L514.7,1126.7 L516.2,1160.6 L517.8,1143.6 L519.4,1128.5 L521.0,1160.5 L522.5,1150.3 L524.1,1127.7 L525.7,1154.9 L527.3,1148.7 L528.9,1128.3 L530.4,1156.4 L532.0,1146.4 L533.6,1127.9 L535.2,1155.5 L536.7,1136.8 L538.3,1127.6 L539.9,1154.8 L541.5,1139.4 L543.0,1125.0 L544.6,1157.4 L546.2,1142.4 L547.8,1122.5 L549.4,1142.3 L550.9,1121.2 L552.5,1152.5 L554.1,1138.3 L555.7,1117.5 L557.2,1152.6 L558.8,1139.1 L560.4,1117.3 L562.0,1151.7 L563.6,1140.8 L565.1,1123.3 L566.7,1151.7 L568.3,1136.9 L569.9,1124.8 L571.4,1153.1 L573.0,1133.8 L574.6,1123.3 L576.2,1149.5 L577.8,1132.9 L579.3,1123.8 L580.9,1148.9 L582.5,1143.5 L584.1,1123.4 L585.6,1152.5 L587.2,1137.6 L588.8,1123.9 L590.4,1144.7 L592.0,1121.6 L593.5,1147.8 L595.1,1136.5 L596.7,1122.1 L598.3,1152.9 L599.8,1141.3 L601.4,1121.8 L603.0,1148.7 L604.6,1141.8 L606.1,1121.5 L607.7,1154.0 L609.3,1135.1 L610.9,1153.5 L612.5,1139.0 L614.0,1122.7 L615.6,1147.4 L617.2,1136.5 L618.8,1120.9 L620.3,1143.1 L621.9,1137.0 L623.5,1120.7 L625.1,1149.1 L626.7,1129.7 L628.2,1120.4 L629.8,1147.3 L631.4,1129.5 L633.0,1121.3 L634.5,1145.3 L636.1,1137.0 L637.7,1122.0 L639.3,1140.5 L640.9,1138.4 L642.4,1122.1 L644.0,1148.6 L645.6,1137.2 L647.2,1122.1 L648.7,1147.6 L650.3,1125.6 L651.9,1143.2 L653.5,1132.4 L655.1,1120.6 L656.6,1150.7 L658.2,1136.2 L659.8,1119.0 L661.4,1154.8 L662.9,1142.7 L664.5,1115.9 L666.1,1149.2 L667.7,1140.0 L669.2,1114.7 L670.8,1155.4 L672.4,1137.0 L674.0,1115.1 L675.6,1163.9 L677.1,1143.5 L678.7,1117.5 L680.3,1153.2 L681.9,1134.5 L683.4,1125.8 L685.0,1153.3 L686.6,1138.4 L688.2,1120.8 L689.8,1164.4 L691.3,1140.7 L692.9,1120.7 L694.5,1164.5 L696.1,1143.4 L697.6,1121.9 L699.2,1165.0 L700.8,1139.6 L702.4,1153.0 L704.0,1112.1 L705.5,1125.1 L707.1,1164.3 L708.7,1144.7 L710.3,1122.9 L711.8,1166.8 L713.4,1154.7 L715.0,1132.2 L716.6,1168.1 L718.2,1145.6 L719.7,1124.9 L721.3,1163.1 L722.9,1143.2 L724.5,1124.9 L726.0,1160.3 L727.6,1141.6 L729.2,1127.2 L730.8,1157.5 L732.4,1141.5 L733.9,1128.0 L735.5,1156.2 L737.1,1144.3 L738.7,1128.9 L740.2,1151.0 L741.8,1144.0 L743.4,1158.3 L745.0,1146.3 L746.5,1127.8 L748.1,1160.1 L749.7,1148.0 L751.3,1124.7 L752.9,1148.7 L754.4,1140.6 L756.0,1121.4 L757.6,1159.1 L759.2,1138.0 L760.7,1121.7 L762.3,1158.6 L763.9,1141.1 L765.5,1123.9 L767.1,1160.8 L768.6,1147.2 L770.2,1127.4 L771.8,1153.7 L773.4,1132.9 L774.9,1121.5 L776.5,1148.8 L778.1,1134.3 L779.7,1121.4 L781.3,1154.6 L782.8,1138.2 L784.4,1121.1 L786.0,1150.7 L787.6,1120.9 L789.1,1154.2 L790.7,1139.3 L792.3,1120.6 L793.9,1154.2 L795.4,1133.3 L797.0,1120.4 L798.6,1151.0 L800.2,1132.2 L801.8,1121.1 L803.3,1139.2 L804.9,1121.5 L806.5,1152.1 L808.1,1139.6 L809.6,1123.3 L811.2,1157.4 L812.8,1098.2 L814.4,1118.6 L816.0,1156.6 L817.5,1136.6 L819.1,1121.9 L820.7,1155.5 L822.3,1135.6 L823.8,1121.6 L825.4,1144.1 L827.0,1134.0 L828.6,1116.2 L830.2,1151.5 L831.7,1130.8 L833.3,1117.8 L834.9,1153.1 L836.5,1132.5 L838.0,1121.2 L839.6,1147.7 L841.2,1138.9 L842.8,1120.5 L844.4,1160.2 L845.9,1139.6 L847.5,1121.6 L849.1,1163.0 L850.7,1145.7 L852.2,1123.3 L853.8,1156.1 L855.4,1141.7 L857.0,1124.5 L858.5,1150.3 L860.1,1136.0 L861.7,1128.9 L863.3,1146.7 L864.9,1134.8 L866.4,1122.0 L868.0,1147.7 L869.6,1134.3 L871.2,1141.2 L872.7,1126.3 L874.3,1106.6 L875.9,1135.8 L877.5,1121.6 L879.1,1104.0 L880.6,1144.1 L882.2,1111.0 L883.8,1151.3 L885.4,1132.1 L886.9,1112.0 L888.5,1153.4 L890.1,1134.5 L891.7,1117.9 L893.3,1143.6 L894.8,1140.7 L896.4,1133.0 L898.0,1152.9 L899.6,1141.4 L901.1,1131.3 L902.7,1099.1 L904.3,1145.7 L905.9,1134.2 L907.5,1096.5 L909.0,1143.1 L910.6,1162.5 L912.2,1151.6 L913.8,1138.8 L915.3,1156.7 L916.9,1150.3 L918.5,1145.1 L920.1,1156.9 L921.6,1149.2 L923.2,1146.3 L924.8,1156.3 L926.4,1151.9 L928.0,1146.3 L929.5,1156.1 L931.1,1152.3 L932.7,1147.3 L934.3,1155.1 L935.8,1150.1 L937.4,1144.6 L939.0,1152.9 L940.6,1148.4 L942.2,1144.1 L943.7,1150.1 L945.3,1147.5 L946.9,1141.5 L948.5,1150.1 L950.0,1145.8 L951.6,1142.0 L953.2,1149.1 L954.8,1150.2 L956.4,1144.1 L957.9,1160.1 L959.5,1145.7 L961.1,1134.2 L962.7,1153.5 L964.2,1131.5 L965.8,1161.2 L967.4,1146.3 L969.0,1139.4 L970.6,1152.9 L972.1,1149.7 L973.7,1136.6 L975.3,1158.9 L976.9,1149.5 L978.4,1138.3 L980.0,1162.6 L981.6,1152.7 L983.2,1134.5 L984.8,1162.7 L986.3,1145.3 L987.9,1136.1 L989.5,1157.1 L991.1,1149.0 L992.6,1138.6 L994.2,1154.2 L995.8,1146.4 L997.4,1139.8 L998.9,1155.8 L1000.5,1147.6 L1002.1,1143.3 L1003.7,1152.6 L1005.3,1147.9 L1006.8,1142.3 L1008.4,1154.1 L1010.0,1144.8 L1011.6,1138.9 L1013.1,1148.3 L1014.7,1145.1 L1016.3,1137.8 L1017.9,1149.7 L1019.5,1140.3 L1021.0,1152.8 L1022.6,1146.8 L1024.2,1144.1 L1025.8,1154.4 L1027.3,1149.9 L1028.9,1143.4 L1030.5,1153.4 L1032.1,1148.1 L1033.7,1143.9 L1035.2,1156.9 L1036.8,1150.2 L1038.4,1143.7 L1040.0,1156.8 L1041.5,1149.6 L1043.1,1145.0 L1044.7,1156.3 L1046.3,1150.5 L1047.8,1146.5 L1049.4,1156.5 L1051.0,1153.0 L1052.6,1148.9 L1054.2,1157.1 L1055.7,1155.7 L1057.3,1151.9 L1058.9,1159.1 L1060.5,1154.7 L1062.0,1148.6 L1063.6,1158.7 L1065.2,1151.5 L1066.8,1147.0 L1068.4,1158.9 L1069.9,1152.9 L1071.5,1146.0 L1073.1,1158.8 L1074.7,1152.5 L1076.2,1159.4 L1077.8,1152.9 L1079.4,1137.7 L1081.0,1142.8 L1082.6,1137.8 L1084.1,1130.1 L1085.7,1137.1 L1087.3,1124.3 L1088.9,1125.5 L1090.4,1139.4 L1092.0,1138.1 L1093.6,1133.8 L1095.2,1147.3 L1096.8,1145.4 L1098.3,1138.4 L1099.9,1153.6 L1101.5,1149.7 L1103.1,1141.1 L1104.6,1153.7 L1106.2,1149.1 L1107.8,1139.9 L1109.4,1150.8 L1110.9,1142.5 L1112.5,1133.4 L1114.1,1150.1 L1115.7,1142.8 L1117.3,1141.1 L1118.8,1152.2 L1120.4,1145.8 L1122.0,1142.4 L1123.6,1154.0 L1125.1,1147.3 L1126.7,1139.2 L1128.3,1151.0 L1129.9,1144.4 L1131.5,1136.4 L1133.0,1149.3 L1134.6,1142.3 L1136.2,1135.3 L1137.8,1145.0 L1139.3,1134.4 L1140.9,1145.2 L1142.5,1138.0 L1144.1,1119.6 L1145.7,1143.5 L1147.2,1125.5 L1148.8,1113.0 L1150.4,1143.8 L1152.0,1129.5 L1153.5,1119.5 L1155.1,1138.8 L1156.7,1134.8 L1158.3,1126.8 L1159.9,1140.8 L1161.4,1135.8 L1163.0,1132.1 L1164.6,1144.0 L1166.2,1139.1 L1167.7,1133.8 L1169.3,1142.1 L1170.9,1137.6 L1172.5,1134.4 L1174.0,1140.3 L1175.6,1139.5 L1177.2,1137.7 L1178.8,1141.3 L1180.4,1140.1 L1181.9,1136.4 L1183.5,1142.7 L1185.1,1139.7 L1186.7,1135.3 L1188.2,1143.2 L1189.8,1141.8 L1191.4,1131.5 L1193.0,1148.9 L1194.6,1141.3 L1196.1,1133.7 L1197.7,1149.1 L1199.3,1143.8 L1200.9,1130.1 L1202.4,1149.3 L1204.0,1140.2 L1205.6,1130.3 L1207.2,1147.4 L1208.8,1138.9 L1210.3,1129.4 L1211.9,1154.6 L1213.5,1137.4 L1215.1,1128.8 L1216.6,1158.1 L1218.2,1146.9 L1219.8,1120.6 L1221.4,1159.3 L1223.0,1141.6 L1224.5,1129.1 L1226.1,1156.6 L1227.7,1136.9 L1229.3,1130.3 L1230.8,1149.8 L1232.4,1140.5 L1234.0,1134.8 L1235.6,1144.1 L1237.1,1136.8 L1238.7,1151.4 L1240.3,1146.0 L1241.9,1139.5 L1243.5,1152.5 L1245.0,1145.1 L1246.6,1152.7 L1248.2,1148.1 L1249.8,1144.2 L1251.3,1153.3 L1252.9,1150.0 L1254.5,1143.4 L1256.1,1152.8 L1257.7,1148.0 L1259.2,1145.7 L1260.8,1151.6 L1262.4,1148.7 L1264.0,1146.0 L1265.5,1154.2 L1267.1,1146.8 L1268.7,1156.5 L1270.3,1155.7 L1271.9,1150.1 L1273.4,1159.3 L1275.0,1151.5 L1276.6,1144.4 L1278.2,1152.2 L1279.7,1150.9 L1281.3,1144.0 L1282.9,1156.5 L1284.5,1155.7 L1286.1,1145.3 L1287.6,1156.8 L1289.2,1149.7 L1290.8,1141.4 L1292.4,1146.2 L1293.9,1139.5 L1295.5,1151.7 L1297.1,1146.5 L1298.7,1136.3 L1300.2,1150.2 L1301.8,1140.9 L1303.4,1130.3 L1305.0,1151.7 L1306.6,1136.4 L1308.1,1131.0 L1309.7,1148.3 L1311.3,1146.0 L1312.9,1136.8 L1314.4,1153.0 L1316.0,1146.1 L1317.6,1137.3 L1319.2,1152.2 L1320.8,1144.4 L1322.3,1137.8 L1323.9,1150.6 L1325.5,1143.5 L1327.1,1139.3 L1328.6,1149.7 L1330.2,1146.2 L1331.8,1136.8 L1333.4,1145.9 L1335.0,1144.1 L1336.5,1139.5 L1338.1,1156.1 L1339.7,1152.9 L1341.3,1147.9 L1342.8,1160.7 L1344.4,1157.4 L1346.0,1150.4 L1347.6,1157.0 L1349.2,1150.6 L1350.7,1146.0 L1352.3,1152.1 L1353.9,1148.0 L1355.5,1141.5 L1357.0,1148.8 L1358.6,1145.1 L1360.2,1137.4 L1361.8,1145.1 L1363.3,1142.3 L1364.9,1135.6 L1366.5,1149.8 L1368.1,1147.1 L1369.7,1140.5 L1371.2,1159.4 L1372.8,1143.4 L1374.4,1099.1 L1376.0,1117.8 L1377.5,1110.3 L1379.1,1153.0 L1380.7,1141.5 L1382.3,1121.3 L1383.9,1151.5 L1385.4,1136.0 L1387.0,1096.9 L1388.6,1090.4 L1390.2,1117.0 L1391.7,1096.0 L1393.3,1113.0 L1394.9,1106.7 L1396.5,1141.1 L1398.1,1130.2 L1399.6,1112.5 L1401.2,1143.5 L1402.8,1130.4 L1404.4,1118.8 L1405.9,1143.6 L1407.5,1128.3 L1409.1,1120.0 L1410.7,1139.4 L1412.3,1126.7 L1413.8,1119.9 L1415.4,1139.3 L1417.0,1130.9 L1418.6,1114.9 L1420.1,1143.6 L1421.7,1133.6 L1423.3,1114.5 L1424.9,1142.7 L1426.4,1123.1 L1428.0,1118.7 L1429.6,1141.8 L1431.2,1131.8 L1432.8,1115.4 L1434.3,1141.6 L1435.9,1125.4 L1437.5,1117.3 L1439.1,1143.1 L1440.6,1135.2 L1442.2,1123.8 L1443.8,1144.0 L1445.4,1137.5 L1447.0,1131.7 L1448.5,1144.9 L1450.1,1140.0 L1451.7,1138.2 L1453.3,1142.8 L1454.8,1133.8 L1456.4,1120.8 L1458.0,1147.9 L1459.6,1111.3 L1461.2,1147.5 L1462.7,1101.7 L1464.3,1104.6 L1465.9,1143.4 L1467.5,1129.4 L1469.0,1117.6 L1470.6,1146.7 L1472.2,1139.1 L1473.8,1129.4 L1475.4,1155.8 L1476.9,1138.6 L1478.5,1125.1 L1480.1,1151.6 L1481.7,1137.2 L1483.2,1116.4 L1484.8,1148.5 L1486.4,1136.2 L1488.0,1135.8 L1489.5,1146.4 L1491.1,1135.9 L1492.7,1133.0 L1494.3,1152.6 L1495.9,1145.8 L1497.4,1130.4 L1499.0,1148.7 L1500.6,1134.1 L1502.2,1126.1 L1503.7,1138.2 L1505.3,1126.4 L1506.9,1143.0 L1508.5,1126.7 L1510.1,1153.7 L1511.6,1141.9 L1513.2,1126.3 L1514.8,1152.7 L1516.4,1144.5 L1517.9,1130.1 L1519.5,1147.2 L1521.1,1145.8 L1522.7,1130.4 L1524.3,1157.7 L1525.8,1148.1 L1527.4,1131.2 L1529.0,1158.4 L1530.6,1151.3 L1532.1,1131.6 L1533.7,1160.7 L1535.3,1145.4 L1536.9,1129.6 L1538.5,1159.3 L1540.0,1141.8 L1541.6,1126.1 L1543.2,1156.4 L1544.8,1145.0 L1546.3,1128.4 L1547.9,1155.3 L1549.5,1142.3 L1551.1,1132.5 L1552.6,1153.7 L1554.2,1150.0 L1555.8,1136.6 L1557.4,1160.8 L1559.0,1152.1 L1560.5,1134.8 L1562.1,1159.7 L1563.7,1145.6 L1565.3,1132.6 L1566.8,1155.3 L1568.4,1139.3 L1570.0,1123.2 L1571.6,1144.2 L1573.2,1133.8 L1574.7,1104.3 L1576.3,1154.2 L1577.9,1130.2 L1579.5,1107.4 L1581.0,1110.4 L1582.6,1132.1 L1584.2,1126.0 L1585.8,1155.0 L1587.4,1149.8 L1588.9,1149.1 L1590.5,1152.9 L1592.1,1149.0 L1593.7,1146.6 L1595.2,1149.7 L1596.8,1147.7 L1598.4,1144.3 L1600.0,1148.0 L1601.6,1145.1 L1603.1,1141.6 L1604.7,1146.3 L1606.3,1143.4 L1607.9,1140.9 L1609.4,1143.8 L1611.0,1142.8 L1612.6,1140.0 L1614.2,1144.9 L1615.8,1142.4 L1617.3,1140.7 L1618.9,1147.1 L1620.5,1143.7 L1622.1,1140.8 L1623.6,1146.2 L1625.2,1144.3 L1626.8,1142.3 L1628.4,1145.8 L1629.9,1143.6 L1631.5,1148.3 L1633.1,1146.4 L1634.7,1145.8 L1636.3,1150.1 L1637.8,1147.9 L1639.4,1146.9 L1641.0,1150.2 L1642.6,1149.7 L1644.1,1147.5 L1645.7,1150.2 L1647.3,1149.6 L1648.9,1147.8 L1650.5,1150.7 L1652.0,1148.0 L1653.6,1145.3 L1655.2,1153.5 L1656.8,1151.0 L1658.3,1144.4 L1659.9,1154.1 L1661.5,1147.6 L1663.1,1142.7 L1664.7,1154.2 L1666.2,1150.7 L1667.8,1142.8 L1669.4,1159.1 L1671.0,1150.0 L1672.5,1143.7 L1674.1,1154.8 L1675.7,1146.1 L1677.3,1141.0 L1678.8,1152.8 L1680.4,1145.6 L1682.0,1140.4 L1683.6,1151.7 L1685.2,1145.7 L1686.7,1137.0 L1688.3,1145.1 L1689.9,1142.9 L1691.5,1137.2 L1693.0,1148.1 L1694.6,1147.4 L1696.2,1138.8 L1697.8,1157.3 L1699.4,1152.2 L1700.9,1140.2 L1702.5,1160.9 L1704.1,1155.0 L1705.7,1140.6 L1707.2,1155.5 L1708.8,1148.6 L1710.4,1140.1 L1712.0,1155.3 L1713.6,1150.2 L1715.1,1139.8 L1716.7,1154.8 L1718.3,1146.2 L1719.9,1139.4 L1721.4,1152.9 L1723.0,1144.2 L1724.6,1139.4 L1726.2,1154.6 L1727.8,1147.7 L1729.3,1139.3 L1730.9,1156.5 L1732.5,1139.6 L1734.1,1159.4 L1735.6,1149.6 L1737.2,1140.9 L1738.8,1158.9 L1740.4,1148.6 L1741.9,1138.8 L1743.5,1153.5 L1745.1,1140.7 L1746.7,1124.3 L1748.3,1144.5 L1749.8,1128.5 L1751.4,1150.9 L1753.0,1148.8 L1754.6,1132.7 L1756.1,1155.7 L1757.7,1145.5 L1759.3,1139.3 L1760.9,1159.7 L1762.5,1152.3 L1764.0,1141.2 L1765.6,1166.8 L1767.2,1150.5 L1768.8,1141.0 L1770.3,1164.8 L1771.9,1151.2 L1773.5,1140.7"/>
<path stroke="#f03c3c" d="M517.8,1161.6 L519.4,1100.8 L521.0,1139.8 M543.0,1159.0 L544.6,1119.0 L546.2,1163.4 M560.4,1169.8 L562.0,1073.9 L563.6,1162.9 M566.7,1166.2 L568.3,1087.8 L569.9,1171.4 M569.9,1171.4 L571.4,1106.0 L573.0,1147.1 M626.7,1167.8 L628.2,1113.8 L629.8,1116.4 M782.8,1122.9 L784.4,1123.4 L786.0,1119.8 M861.7,1154.0 L863.3,1123.4 L864.9,1181.9 M970.6,1179.0 L972.1,1156.4 L973.7,1169.5 M986.3,1183.7 L987.9,1159.9 L989.5,1176.2 M1057.3,1167.4 L1058.9,1157.3 L1060.5,1173.9 M1134.6,1128.4 L1136.2,1117.3 L1137.8,1138.9 M1139.3,1171.4 L1140.9,1140.8 L1142.5,1167.9 M1161.4,1180.3 L1163.0,1146.0 L1164.6,1179.9 M1213.5,1164.2 L1215.1,1135.6 L1216.6,1163.7 M1286.1,1156.8 L1287.6,1136.4 L1289.2,1187.0 M1301.8,1166.8 L1303.4,1127.7 L1305.0,1166.4 M1342.8,1173.0 L1344.4,1139.9 L1346.0,1164.3 M1380.7,1180.9 L1382.3,1140.8 L1383.9,1178.3 M1404.4,1173.0 L1405.9,1128.6 L1407.5,1178.9 M1417.0,1186.6 L1418.6,1106.9 L1420.1,1154.8 M1489.5,1185.3 L1491.1,1125.1 L1492.7,1172.0 M1549.5,1170.3 L1551.1,1134.7 L1552.6,1155.2 M1655.2,1178.0 L1656.8,1152.1 L1658.3,1177.1 M628.2,1113.8 L629.8,1116.4 L631.4,1162.0"/>
</g>
<g stroke="#000" stroke-width="5">
<line x1="354.5" y1="45" x2="354.5" y2="66"/><line x1="354.5" y1="1286" x2="354.5" y2="1309"/>
<line x1="512.5" y1="45" x2="512.5" y2="66"/><line x1="512.5" y1="1286" x2="512.5" y2="1309"/>
<line x1="670.5" y1="45" x2="670.5" y2="66"/><line x1="670.5" y1="1286" x2="670.5" y2="1309"/>
<line x1="827.5" y1="45" x2="827.5" y2="66"/><line x1="827.5" y1="1286" x2="827.5" y2="1309"/>
<line x1="985.5" y1="45" x2="985.5" y2="66"/><line x1="985.5" y1="1286" x2="985.5" y2="1309"/>
<line x1="1143.5" y1="45" x2="1143.5" y2="66"/><line x1="1143.5" y1="1286" x2="1143.5" y2="1309"/>
<line x1="1300.5" y1="45" x2="1300.5" y2="66"/><line x1="1300.5" y1="1286" x2="1300.5" y2="1309"/>
<line x1="1458.5" y1="45" x2="1458.5" y2="66"/><line x1="1458.5" y1="1286" x2="1458.5" y2="1309"/>
<line x1="1616.5" y1="45" x2="1616.5" y2="66"/><line x1="1616.5" y1="1286" x2="1616.5" y2="1309"/>
<line x1="199" y1="222.5" x2="221" y2="222.5"/><line x1="1749" y1="222.5" x2="1771" y2="222.5"/>
<line x1="199" y1="404.5" x2="221" y2="404.5"/><line x1="1749" y1="404.5" x2="1771" y2="404.5"/>
<line x1="199" y1="585.5" x2="221" y2="585.5"/><line x1="1749" y1="585.5" x2="1771" y2="585.5"/>
<line x1="199" y1="766.5" x2="221" y2="766.5"/><line x1="1749" y1="766.5" x2="1771" y2="766.5"/>
<line x1="199" y1="948.5" x2="221" y2="948.5"/><line x1="1749" y1="948.5" x2="1771" y2="948.5"/>
<line x1="199" y1="1129.5" x2="221" y2="1129.5"/><line x1="1749" y1="1129.5" x2="1771" y2="1129.5"/>
</g>
<path fill="#000" fill-rule="evenodd" d="M194 40H1777V1314H194Z M199 45V1309H1771V45Z"/>
<rect x="1287.2" y="49.5" width="476.6" height="254.8" fill="#fff" stroke="#000" stroke-width="5"/>
<line x1="1309" y1="98.4" x2="1416.7" y2="98.4" stroke="#4d4d4d" stroke-width="4.5" stroke-linecap="round"/>
<line x1="1309" y1="180.3" x2="1416.7" y2="180.3" stroke="#f03c3c" stroke-width="4.5" stroke-linecap="round"/>
<line x1="1309" y1="262.5" x2="1416.7" y2="262.5" stroke="#1565d8" stroke-width="4.5" stroke-linecap="round"/>
<text x="1458.5" y="119.0" font-size="61">r = 1 × 10<tspan font-size="42.7" dx="-3.8" dy="-25">−2</tspan></text>
<text x="1458.5" y="200.5" font-size="61">r = 1 × 10<tspan font-size="42.7" dx="-3.8" dy="-25">−3</tspan></text>
<text x="1458.5" y="282.0" font-size="61">r = 1 × 10<tspan font-size="42.7" dx="-3.8" dy="-25">−4</tspan></text>
<g font-size="55">
<text x="196.5" y="1379.3" text-anchor="middle">0</text>
<text x="354.5" y="1379.3" text-anchor="middle">100</text>
<text x="512.5" y="1379.3" text-anchor="middle">200</text>
<text x="670.5" y="1379.3" text-anchor="middle">300</text>
<text x="827.5" y="1379.3" text-anchor="middle">400</text>
<text x="985.5" y="1379.3" text-anchor="middle">500</text>
<text x="1143.5" y="1379.3" text-anchor="middle">600</text>
<text x="1300.5" y="1379.3" text-anchor="middle">700</text>
<text x="1458.5" y="1379.3" text-anchor="middle">800</text>
<text x="1616.5" y="1379.3" text-anchor="middle">900</text>
<text x="1774.0" y="1379.3" text-anchor="middle">1000</text>
<text x="168.8" y="56.7" text-anchor="end">700</text>
<text x="168.8" y="236.7" text-anchor="end">650</text>
<text x="168.8" y="418.7" text-anchor="end">600</text>
<text x="168.8" y="599.7" text-anchor="end">550</text>
<text x="168.8" y="780.7" text-anchor="end">500</text>
<text x="168.8" y="962.7" text-anchor="end">450</text>
<text x="168.8" y="1143.7" text-anchor="end">400</text>
<text x="168.8" y="1325.7" text-anchor="end">350</text>
</g>
<text x="985.2" y="1478.8" font-size="60" text-anchor="middle">Episode</text>
<text transform="translate(61.5 674.6) rotate(-90)" font-size="59.7" text-anchor="middle" style="font-kerning:none">Average cost of the system</text>
</svg></body></html>
